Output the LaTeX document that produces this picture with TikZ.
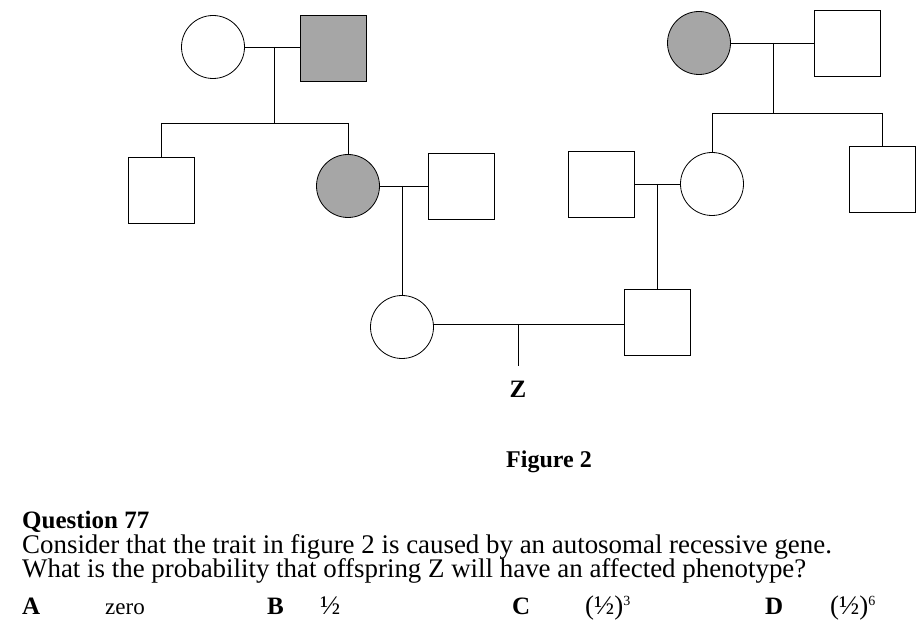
\documentclass[tikz,border=0pt]{standalone}
\usepackage{fontspec}
\setmainfont{Liberation Serif}
\begin{document}
\begin{tikzpicture}[x=1pt,y=-1pt,
  ln/.style={line width=0.8pt},
  f/.style={circle,draw,ln,minimum size=63pt,inner sep=0pt},
  m/.style={rectangle,draw,ln,minimum size=66pt,inner sep=0pt},
  aff/.style={fill=black!35},
  t/.style={anchor=base west,inner sep=0pt,font=\fontsize{26.9}{28}\selectfont}]
\useasboundingbox (0,0) rectangle (916,628);
% left grandparents
\node[f] (gf1) at (213,47) {};
\node[m,aff] (gm1) at (333,48) {};
\draw[ln] (gf1.east) -- (gm1.west|-gf1.east);
\coordinate (d1) at (274,47);
\draw[ln] (d1) -- (274,123) coordinate (s1);
\node[m] (c1) at (161,190) {};
\node[f,aff] (c2) at (348,186) {};
\draw[ln] (c1.north|-s1) -- (c2.north|-s1);
\draw[ln] (c1.north|-s1) -- (c1.north);
\draw[ln] (c2.north|-s1) -- (c2.north);
\node[m] (c3) at (461,186) {};
\draw[ln] (c2.east) -- (c3.west);
% right grandparents
\node[f,aff] (gf2) at (699,43) {};
\node[m] (gm2) at (847,43) {};
\draw[ln] (gf2.east) -- (gm2.west);
\draw[ln] (773,43) -- (773,113) coordinate (s2);
\node[f] (c4) at (712,184) {};
\node[m] (c5) at (882,179) {};
\draw[ln] (c4.north|-s2) -- (c5.north|-s2);
\draw[ln] (c4.north|-s2) -- (c4.north);
\draw[ln] (c5.north|-s2) -- (c5.north);
\node[m] (c6) at (601,184) {};
\draw[ln] (c6.east) -- (c4.west);
% third generation
\node[f] (g1) at (402,327) {};
\node[m] (g2) at (657,322) {};
\draw[ln] (402,186) -- (g1.north);
\draw[ln] (657,184) -- (g2.north);
\draw[ln] (g1.east|-0,324) -- (g2.west|-0,324);
\node[font=\fontsize{25}{28}\selectfont\bfseries,anchor=base,inner sep=0pt] (z) at (518,397) {Z};
\draw[ln] (518,324) -- (518,366);
\node[font=\fontsize{24}{28}\selectfont\bfseries,anchor=base,inner sep=0pt] (fig) at (549,467) {Figure 2};
% question
\node[t,font=\fontsize{25}{28}\selectfont\bfseries] (q) at (22,528) {Question 77};
\node[t] (l1) at (22,553) {Consider that the trait in figure 2 is caused by an autosomal recessive gene.};
\node[t] (l2) at (22,577) {What is the probability that offspring Z will have an affected phenotype?};
\node[t,font=\fontsize{25}{28}\selectfont\bfseries] (a) at (22,614) {A};
\node[t,font=\fontsize{23}{28}\selectfont] (a1) at (105,614) {zero};
\node[t,font=\fontsize{25}{28}\selectfont\bfseries] (b) at (267,614) {B};
\node[t] (b1) at (320,614) {½};
\node[t,font=\fontsize{25}{28}\selectfont\bfseries] (c) at (512,614) {C};
\node[t] (c1t) at (585,614) {(½)\raisebox{9pt}{\fontsize{14}{16}\selectfont 3}};
\node[t,font=\fontsize{25}{28}\selectfont\bfseries] (d) at (765,614) {D};
\node[t] (d1) at (830,614) {(½)\raisebox{9pt}{\fontsize{14}{16}\selectfont 6}};
\end{tikzpicture}
\end{document}
